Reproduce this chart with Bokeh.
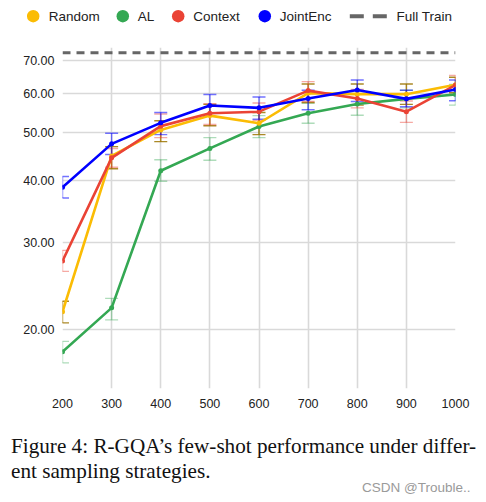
from bokeh.plotting import figure
from bokeh.layouts import column
from bokeh.models import FixedTicker, PrintfTickFormatter, Range1d
from bokeh.core.properties import value
from bokeh.embed import file_html
from bokeh.resources import INLINE

# ---------------- data ----------------
shots = [200, 300, 400, 500, 600, 700, 800, 900, 1000]

random_mean = [21.7, 44.9, 50.7, 54.2, 52.3, 60.2, 59.9, 59.9, 62.6]
random_lo   = [20.6, 42.3, 48.0, 51.7, 49.6, 57.6, 56.9, 57.1, 60.3]
random_hi   = [22.8, 46.9, 52.9, 57.1, 55.0, 62.8, 62.8, 62.8, 64.8]

al_mean = [18.0, 22.1, 41.9, 46.5, 51.5, 54.8, 57.2, 58.6, 59.8]
al_lo   = [17.1, 20.9, 39.9, 44.0, 48.9, 52.3, 54.3, 56.2, 56.9]
al_hi   = [18.9, 23.1, 44.1, 48.9, 54.2, 57.4, 60.1, 61.0, 62.7]

context_mean = [27.5, 44.5, 51.6, 54.8, 55.2, 60.9, 58.7, 55.2, 62.5]
context_lo   = [26.2, 42.6, 48.9, 52.0, 53.0, 57.9, 56.2, 52.5, 59.8]
context_hi   = [28.9, 46.5, 54.6, 57.3, 57.5, 63.5, 61.2, 58.0, 65.4]

joint_mean = [38.8, 47.5, 52.4, 56.8, 56.2, 58.7, 61.1, 58.6, 61.2]
joint_lo   = [36.9, 45.2, 49.6, 54.0, 53.3, 55.7, 57.9, 56.5, 58.1]
joint_hi   = [40.8, 49.9, 55.0, 59.8, 59.1, 61.0, 64.0, 61.0, 64.0]

full_train = 72.7

y_ticks = [20, 30, 40, 50, 60, 70]
series_names = ["Random", "AL", "Context", "JointEnc"]
full_train_label = "Full Train"
caption_lines = ["Figure 4: R-GQA\u2019s few-shot performance under differ-",
                 "ent sampling strategies."]
watermark = "CSDN @Trouble.."

# ---------------- styles ----------------
colors = {"Random": "#FBBC04", "AL": "#34A853", "Context": "#EA4335", "JointEnc": "#0000FF"}
err_colors = {"Random": ("#9C7400", 0.85), "AL": ("#34A853", 0.4),
              "Context": ("#EA4335", 0.45), "JointEnc": ("#0000FF", 0.55)}
SANS = "Liberation Sans"
SERIF = "Liberation Serif"
W = 486


def blank(h):
    f = figure(width=W, height=h, x_range=Range1d(0, W), y_range=Range1d(0, h),
               toolbar_location=None, output_backend="svg", frame_align=False,
               x_axis_location=None, y_axis_location=None, min_border=0)
    f.grid.visible = False
    f.outline_line_color = None
    return f


# ---------------- legend strip ----------------
LEG_H = 31
leg = blank(LEG_H)
ly = LEG_H - 15.7
circle_x = [32.7, 122.3, 177.7, 264.3]
text_x = [48.3, 137.3, 192.7, 279.3]
for name, cx, tx in zip(series_names, circle_x, text_x):
    leg.scatter([cx], [ly], size=12.5, color=colors[name], line_color=None)
    leg.text([tx], [ly], text=[name], text_font=value(SANS), text_font_size="13.5px",
             text_baseline="middle", text_align="left", text_color="#222222")
leg.line([349.3, 386.7], [ly, ly], line_color="#666666", line_width=4, line_dash="14 9")
leg.text([396], [ly], text=[full_train_label], text_font=value(SANS), text_font_size="13.5px",
         text_baseline="middle", text_align="left", text_color="#222222")

# ---------------- main plot ----------------
p = figure(width=W, height=389, y_axis_type="log",
           x_range=Range1d(200, 1000), y_range=Range1d(15.17, 74.47),
           toolbar_location=None, output_backend="svg", frame_align=False,
           min_border_left=62, min_border_right=31, min_border_top=16, min_border_bottom=32)
p.outline_line_color = None
p.xaxis.ticker = FixedTicker(ticks=shots)
p.yaxis.ticker = FixedTicker(ticks=y_ticks)
p.yaxis.formatter = PrintfTickFormatter(format="%.2f")
for ax in (p.xaxis, p.yaxis):
    ax.axis_line_color = None
    ax.major_tick_line_color = None
    ax.minor_tick_line_color = None
    ax.major_tick_out = 0
    ax.major_tick_in = 0
    ax.major_label_text_font = SANS
    ax.major_label_text_font_size = "12.5px"
    ax.major_label_text_color = "#222222"
p.xaxis.major_label_standoff = 10
p.yaxis.major_label_standoff = 8
p.xgrid.ticker = FixedTicker(ticks=shots)
p.ygrid.ticker = FixedTicker(ticks=y_ticks)
p.grid.grid_line_color = "#d9d9d9"
p.grid.grid_line_width = 1.6
p.ygrid.minor_grid_line_color = None

p.line([shots[0], shots[-1]], [full_train, full_train], line_color="#666666",
       line_width=3, line_dash="8 6")

data = {"Random": (random_mean, random_lo, random_hi),
        "AL": (al_mean, al_lo, al_hi),
        "Context": (context_mean, context_lo, context_hi),
        "JointEnc": (joint_mean, joint_lo, joint_hi)}

draw_order = ["AL", "Random", "Context", "JointEnc"]
for name in draw_order:
    m, lo, hi = data[name]
    ec, ea = err_colors[name]
    p.segment(x0=shots, y0=lo, x1=shots, y1=hi, line_color=ec, line_alpha=ea, line_width=1.4)
    p.scatter(shots, lo, marker="dash", size=13, line_color=ec, line_alpha=ea, line_width=1.4)
    p.scatter(shots, hi, marker="dash", size=13, line_color=ec, line_alpha=ea, line_width=1.4)
for name in draw_order:
    m, lo, hi = data[name]
    p.line(shots, m, line_color=colors[name], line_width=2.6)
    p.scatter(shots, m, size=5, color=colors[name], line_color=None)

# ---------------- caption ----------------
CAP_H = 80
TOP = 420  # page y of the caption strip
cap = blank(CAP_H)
cap.text([10.5], [CAP_H - (445.9 - TOP)], text=[caption_lines[0]], text_font=value(SERIF),
         text_font_size="21.2px", text_baseline="middle", text_align="left",
         text_color="#111111")
cap.text([10.5], [CAP_H - (470.9 - TOP)], text=[caption_lines[1]], text_font=value(SERIF),
         text_font_size="21.2px", text_baseline="middle", text_align="left",
         text_color="#111111")
cap.text([470], [CAP_H - (487 - TOP)], text=[watermark], text_font=value(SANS),
         text_font_size="13.5px", text_baseline="middle", text_align="right",
         text_color="#9a9a9a")

layout = column(leg, p, cap, spacing=0)
open("out.html", "w").write(file_html(layout, INLINE))
